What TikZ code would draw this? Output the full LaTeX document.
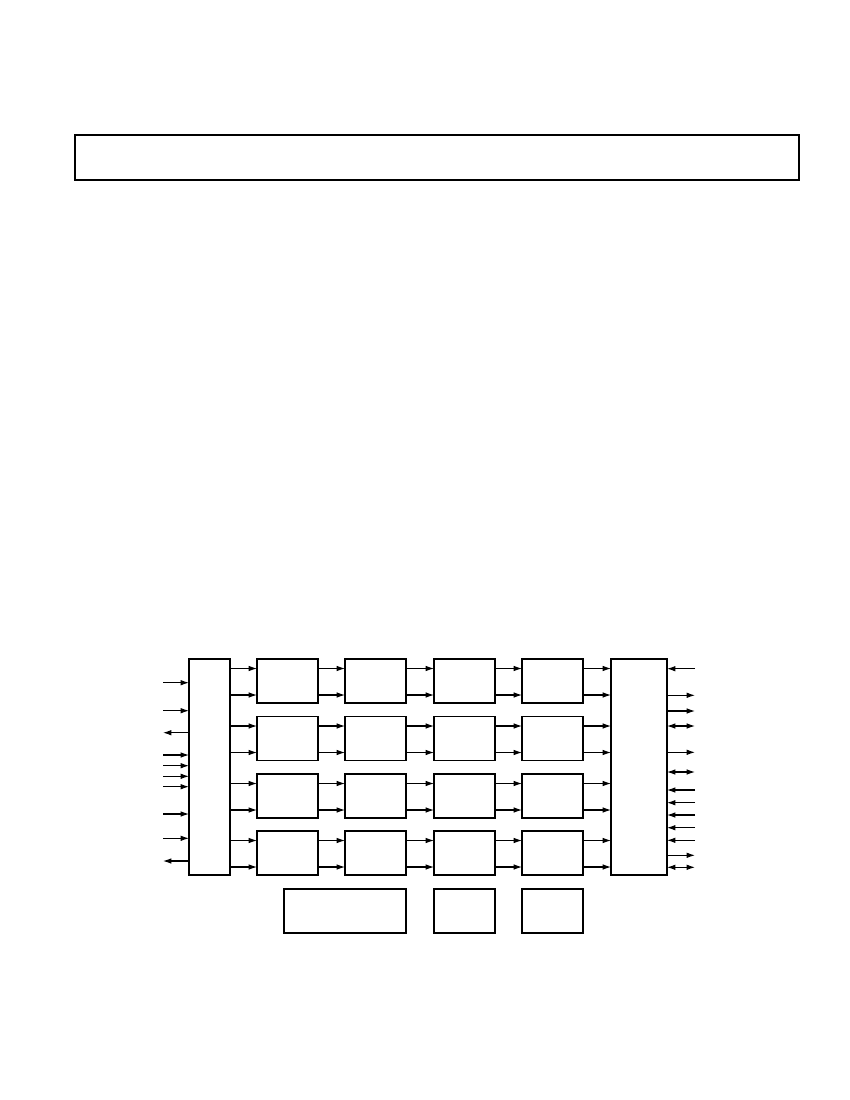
\documentclass[tikz,border=0pt]{standalone}
\usetikzlibrary{arrows.meta}
\begin{document}
\begin{tikzpicture}[x=0.72pt,y=-0.72pt,
  box/.style={draw,line width=0.75pt,inner sep=0pt,outer sep=0pt},
  arr/.style={line width=0.75pt,-{Latex[length=6pt,width=4pt]}},
  barr/.style={line width=0.75pt,{Latex[length=6pt,width=4pt]}-{Latex[length=6pt,width=4pt]}}]
\useasboundingbox (0,0) rectangle (850,1100);
% top bar
\node[box,minimum width=724*0.72pt,minimum height=45*0.72pt] (T) at (437,157.5) {};
% left and right big blocks
\node[box,minimum width=41*0.72pt,minimum height=216*0.72pt] (L) at (209.5,767) {};
\node[box,minimum width=56*0.72pt,minimum height=216*0.72pt] (R) at (639,767) {};
% grid of blocks
\foreach \c/\x in {1/287.5,2/375.5,3/464.5,4/552.5}{
  \foreach \r/\y in {1/681,2/738.5,3/796,4/853}{
    \node[box,minimum width=61*0.72pt,minimum height=44*0.72pt] (b\c\r) at (\x,\y) {};
  }
}
% bottom blocks
\node[box,minimum width=122*0.72pt,minimum height=44*0.72pt] (B1) at (345,911) {};
\node[box,minimum width=61*0.72pt,minimum height=44*0.72pt] (B2) at (464.5,911) {};
\node[box,minimum width=61*0.72pt,minimum height=44*0.72pt] (B3) at (552.5,911) {};
% row connector levels
\foreach \r/\y in {1/681,2/738.5,3/796,4/853}{
  \pgfmathsetmacro\ya{\y-12.5}
  \pgfmathsetmacro\yb{\y+14}
  \coordinate (p\r a) at (0,\ya);
  \coordinate (p\r b) at (0,\yb);
}
\foreach \r in {1,2,3,4}{
  \foreach \k in {a,b}{
    \draw[arr] (L.east |- p\r\k) -- (b1\r.west |- p\r\k);
    \draw[arr] (b1\r.east |- p\r\k) -- (b2\r.west |- p\r\k);
    \draw[arr] (b2\r.east |- p\r\k) -- (b3\r.west |- p\r\k);
    \draw[arr] (b3\r.east |- p\r\k) -- (b4\r.west |- p\r\k);
    \draw[arr] (b4\r.east |- p\r\k) -- (R.west |- p\r\k);
  }
}
% left side signals
\foreach \i/\y/\d in {1/682.7/i,2/710.7/i,3/732.7/o,4/755/i,5/765.7/i,6/776.3/i,7/786.7/i,8/814/i,9/838.3/i,10/861/o}{
  \coordinate (l\i) at (163,\y);
  \if\d i
    \draw[arr] (l\i) -- (L.west |- l\i);
  \else
    \draw[arr] (L.west |- l\i) -- (l\i);
  \fi
}
% right side signals
\foreach \i/\y/\d in {1/668.7/i,2/695.3/o,3/711/o,4/726/b,5/752.3/o,6/772/b,7/790/i,8/802.7/i,9/815/i,10/827.7/i,11/840.3/i,12/855.3/o,13/867.3/b}{
  \coordinate (r\i) at (695,\y);
  \if\d i
    \draw[arr] (r\i) -- (R.east |- r\i);
  \else\if\d o
    \draw[arr] (R.east |- r\i) -- (r\i);
  \else
    \draw[barr] (R.east |- r\i) -- (r\i);
  \fi\fi
}
\end{tikzpicture}
\end{document}
